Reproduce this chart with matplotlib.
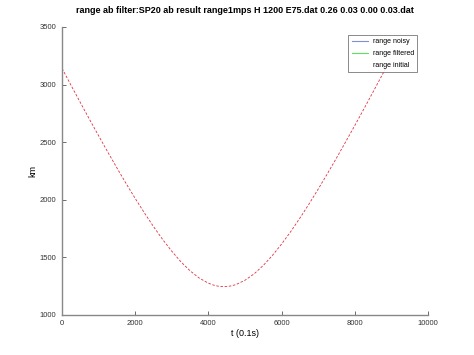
import numpy as np
import matplotlib
matplotlib.use("Agg")
from matplotlib import pyplot as plt

plt.rcParams['font.family'] = ['Liberation Sans', 'DejaVu Sans']

# range initial (t in 0.1 s, range in km)
t_initial = [0, 250, 500, 750, 1000, 1250, 1500, 1750, 2000, 2250,
             2500, 2750, 3000, 3250, 3500, 3750, 4000, 4125, 4250, 4375,
             4500, 4625, 4750, 5000, 5250, 5500, 5750, 6000, 6250, 6500,
             6750, 7000, 7250, 7500, 7750, 8000, 8250, 8500, 8750, 8900]
range_initial = [3140, 2990, 2843, 2697, 2554, 2413, 2275, 2140, 2010, 1885,
                 1766, 1654, 1552, 1460, 1382, 1319, 1275, 1260, 1250, 1246,
                 1246, 1252, 1263, 1301, 1357, 1430, 1517, 1616, 1724, 1841,
                 1964, 2093, 2226, 2363, 2503, 2645, 2790, 2937, 3085, 3175]

title = "range ab filter:SP20 ab result range1mps H 1200 E75.dat 0.26 0.03 0.00 0.03.dat"

fig = plt.figure(figsize=(4.74, 3.55), dpi=100)
ax = fig.add_axes([0.131, 0.113, 0.772, 0.811])

ax.plot([], [], color="#8090d0", lw=0.8, label="range noisy")
ax.plot([], [], color="#60e060", lw=0.8, label="range filtered")
ax.plot(t_initial, range_initial, color="#e03040", lw=0.6, ls=(0, (3, 2)),
        label="range initial")

ax.set_xlim(0, 10000)
ax.set_ylim(1000, 3500)
ax.set_xticks([0, 2000, 4000, 6000, 8000, 10000])
ax.set_yticks([1000, 1500, 2000, 2500, 3000, 3500])
ax.set_xlabel("t (0.1s)", fontsize=6.5, labelpad=1)
ax.set_ylabel("km", fontsize=6.5, labelpad=2)
ax.set_title(title, fontsize=6.5, fontweight="bold", pad=10)

for side in ["top", "right"]:
    ax.spines[side].set_visible(False)
for side in ["left", "bottom"]:
    ax.spines[side].set_color("#888888")
    ax.spines[side].set_linewidth(1.0)
ax.tick_params(direction="in", length=3, width=0.6, color="#555555",
               labelsize=5.5, labelcolor="#333333", pad=4)

leg = ax.legend(loc="upper right", bbox_to_anchor=(0.98, 0.985), fontsize=5,
                frameon=True, fancybox=False, handlelength=2.4,
                handletextpad=0.6, borderpad=0.5, labelspacing=0.7)
leg.get_frame().set_edgecolor("#555555")
leg.get_frame().set_linewidth(0.6)
leg.legend_handles[2].set_visible(False)

fig.savefig("out.png", dpi=100)
